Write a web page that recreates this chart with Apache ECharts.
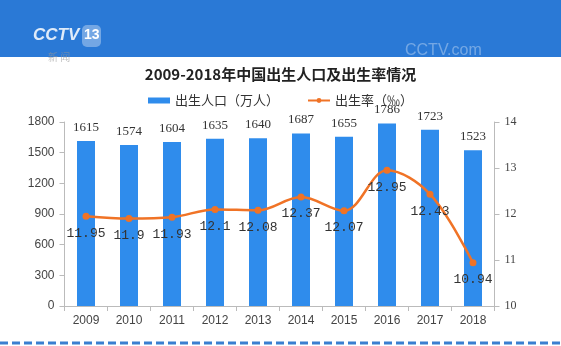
<!DOCTYPE html>
<html><head><meta charset="utf-8">
<script src="https://cdn.jsdelivr.net/npm/echarts@6/dist/echarts.min.js"></script>
<style>html,body{margin:0;padding:0;background:#fff}#c{width:561px;height:346px}</style>
</head><body><div id="c"></div>
<script>
const years = ['2009','2010','2011','2012','2013','2014','2015','2016','2017','2018'];
const births = [1615,1574,1604,1635,1640,1687,1655,1786,1723,1523];
const rates = [11.95,11.9,11.93,12.1,12.08,12.37,12.07,12.95,12.43,10.94];
const leftTicks = [0,300,600,900,1200,1500,1800];
const rightTicks = [10,11,12,13,14];

const chart = echarts.init(document.getElementById('c'), null, {renderer:'canvas'});
chart.setOption({
  animation:false,
  backgroundColor:'#fff',
  graphic:[
    {type:'rect', shape:{x:0,y:0,width:561,height:57}, style:{fill:'#2a79d6'}, z:0},
    {type:'text', left:33, top:27, style:{text:'CCTV', fill:'rgba(255,255,255,0.85)', font:'italic bold 17px "Liberation Sans"'}},
    {type:'rect', shape:{x:82,y:25,width:19,height:22,r:5}, style:{fill:'rgba(255,255,255,0.35)'}},
    {type:'text', left:84, top:28, style:{text:'13', fill:'#fff', font:'bold 14px "Liberation Sans"'}},
    {type:'text', left:48, top:52, style:{text:'新 闻', fill:'rgba(150,150,150,0.6)', font:'10px "Noto Sans CJK SC"'}},
    {type:'text', left:405, top:43, style:{text:'CCTV.com', fill:'rgba(255,255,255,0.35)', font:'16px "Liberation Sans"'}},
    {type:'line', shape:{x1:0,y1:343,x2:561,y2:343}, style:{stroke:'#3a7fd0', lineWidth:3, lineDash:[8,4]}}
  ],
  title:{
    text:'2009-2018年中国出生人口及出生率情况',
    left:'center', top:62,
    textStyle:{fontSize:15, fontWeight:'bold', color:'#222', fontFamily:'"Noto Sans CJK SC"'}
  },
  legend:{
    top:89, left:'center',
    itemGap:28, itemWidth:22, itemHeight:6,
    textStyle:{fontSize:13, color:'#333', fontFamily:'"Noto Sans CJK SC"'},
    data:[{name:'出生人口（万人）', icon:'rect'}, {name:'出生率（‰）'}]
  },
  grid:{left:64.5, right:66.5, top:122, bottom:40},
  xAxis:{
    type:'category', data:years,
    axisLine:{lineStyle:{color:'#bbb'}},
    axisTick:{show:true, alignWithLabel:false, lineStyle:{color:'#bbb'}},
    axisLabel:{fontSize:12, color:'#444', margin:9, fontFamily:'"Liberation Sans"'}
  },
  yAxis:[
    {type:'value', min:leftTicks[0], max:leftTicks[leftTicks.length-1], interval:300,
     axisLine:{show:true, lineStyle:{color:'#bbb'}}, axisTick:{show:true, lineStyle:{color:'#bbb'}},
     splitLine:{show:false},
     axisLabel:{fontSize:12, color:'#444', margin:10, fontFamily:'"Liberation Sans"', formatter:function(v){return String(v);}}},
    {type:'value', min:rightTicks[0], max:rightTicks[rightTicks.length-1], interval:1,
     axisLine:{show:true, lineStyle:{color:'#bbb'}}, axisTick:{show:true, lineStyle:{color:'#bbb'}},
     splitLine:{show:false},
     axisLabel:{fontSize:12, color:'#444', margin:10, fontFamily:'"Liberation Serif"'}}
  ],
  series:[
    {name:'出生人口（万人）', type:'bar', data:births, barWidth:18,
     itemStyle:{color:'#2f8cec'},
     label:{show:true, position:'top', distance:7, fontSize:13, color:'#333', fontFamily:'"Liberation Serif"'}},
    {name:'出生率（‰）', type:'line', yAxisIndex:1, data:rates, smooth:0.35,
     symbol:'circle', symbolSize:7,
     lineStyle:{color:'#f07326', width:2.5}, itemStyle:{color:'#f07326'},
     label:{show:true, position:'bottom', distance:7, fontSize:13, color:'#333', fontFamily:'"Liberation Mono"'}}
  ]
});
</script></body></html>
